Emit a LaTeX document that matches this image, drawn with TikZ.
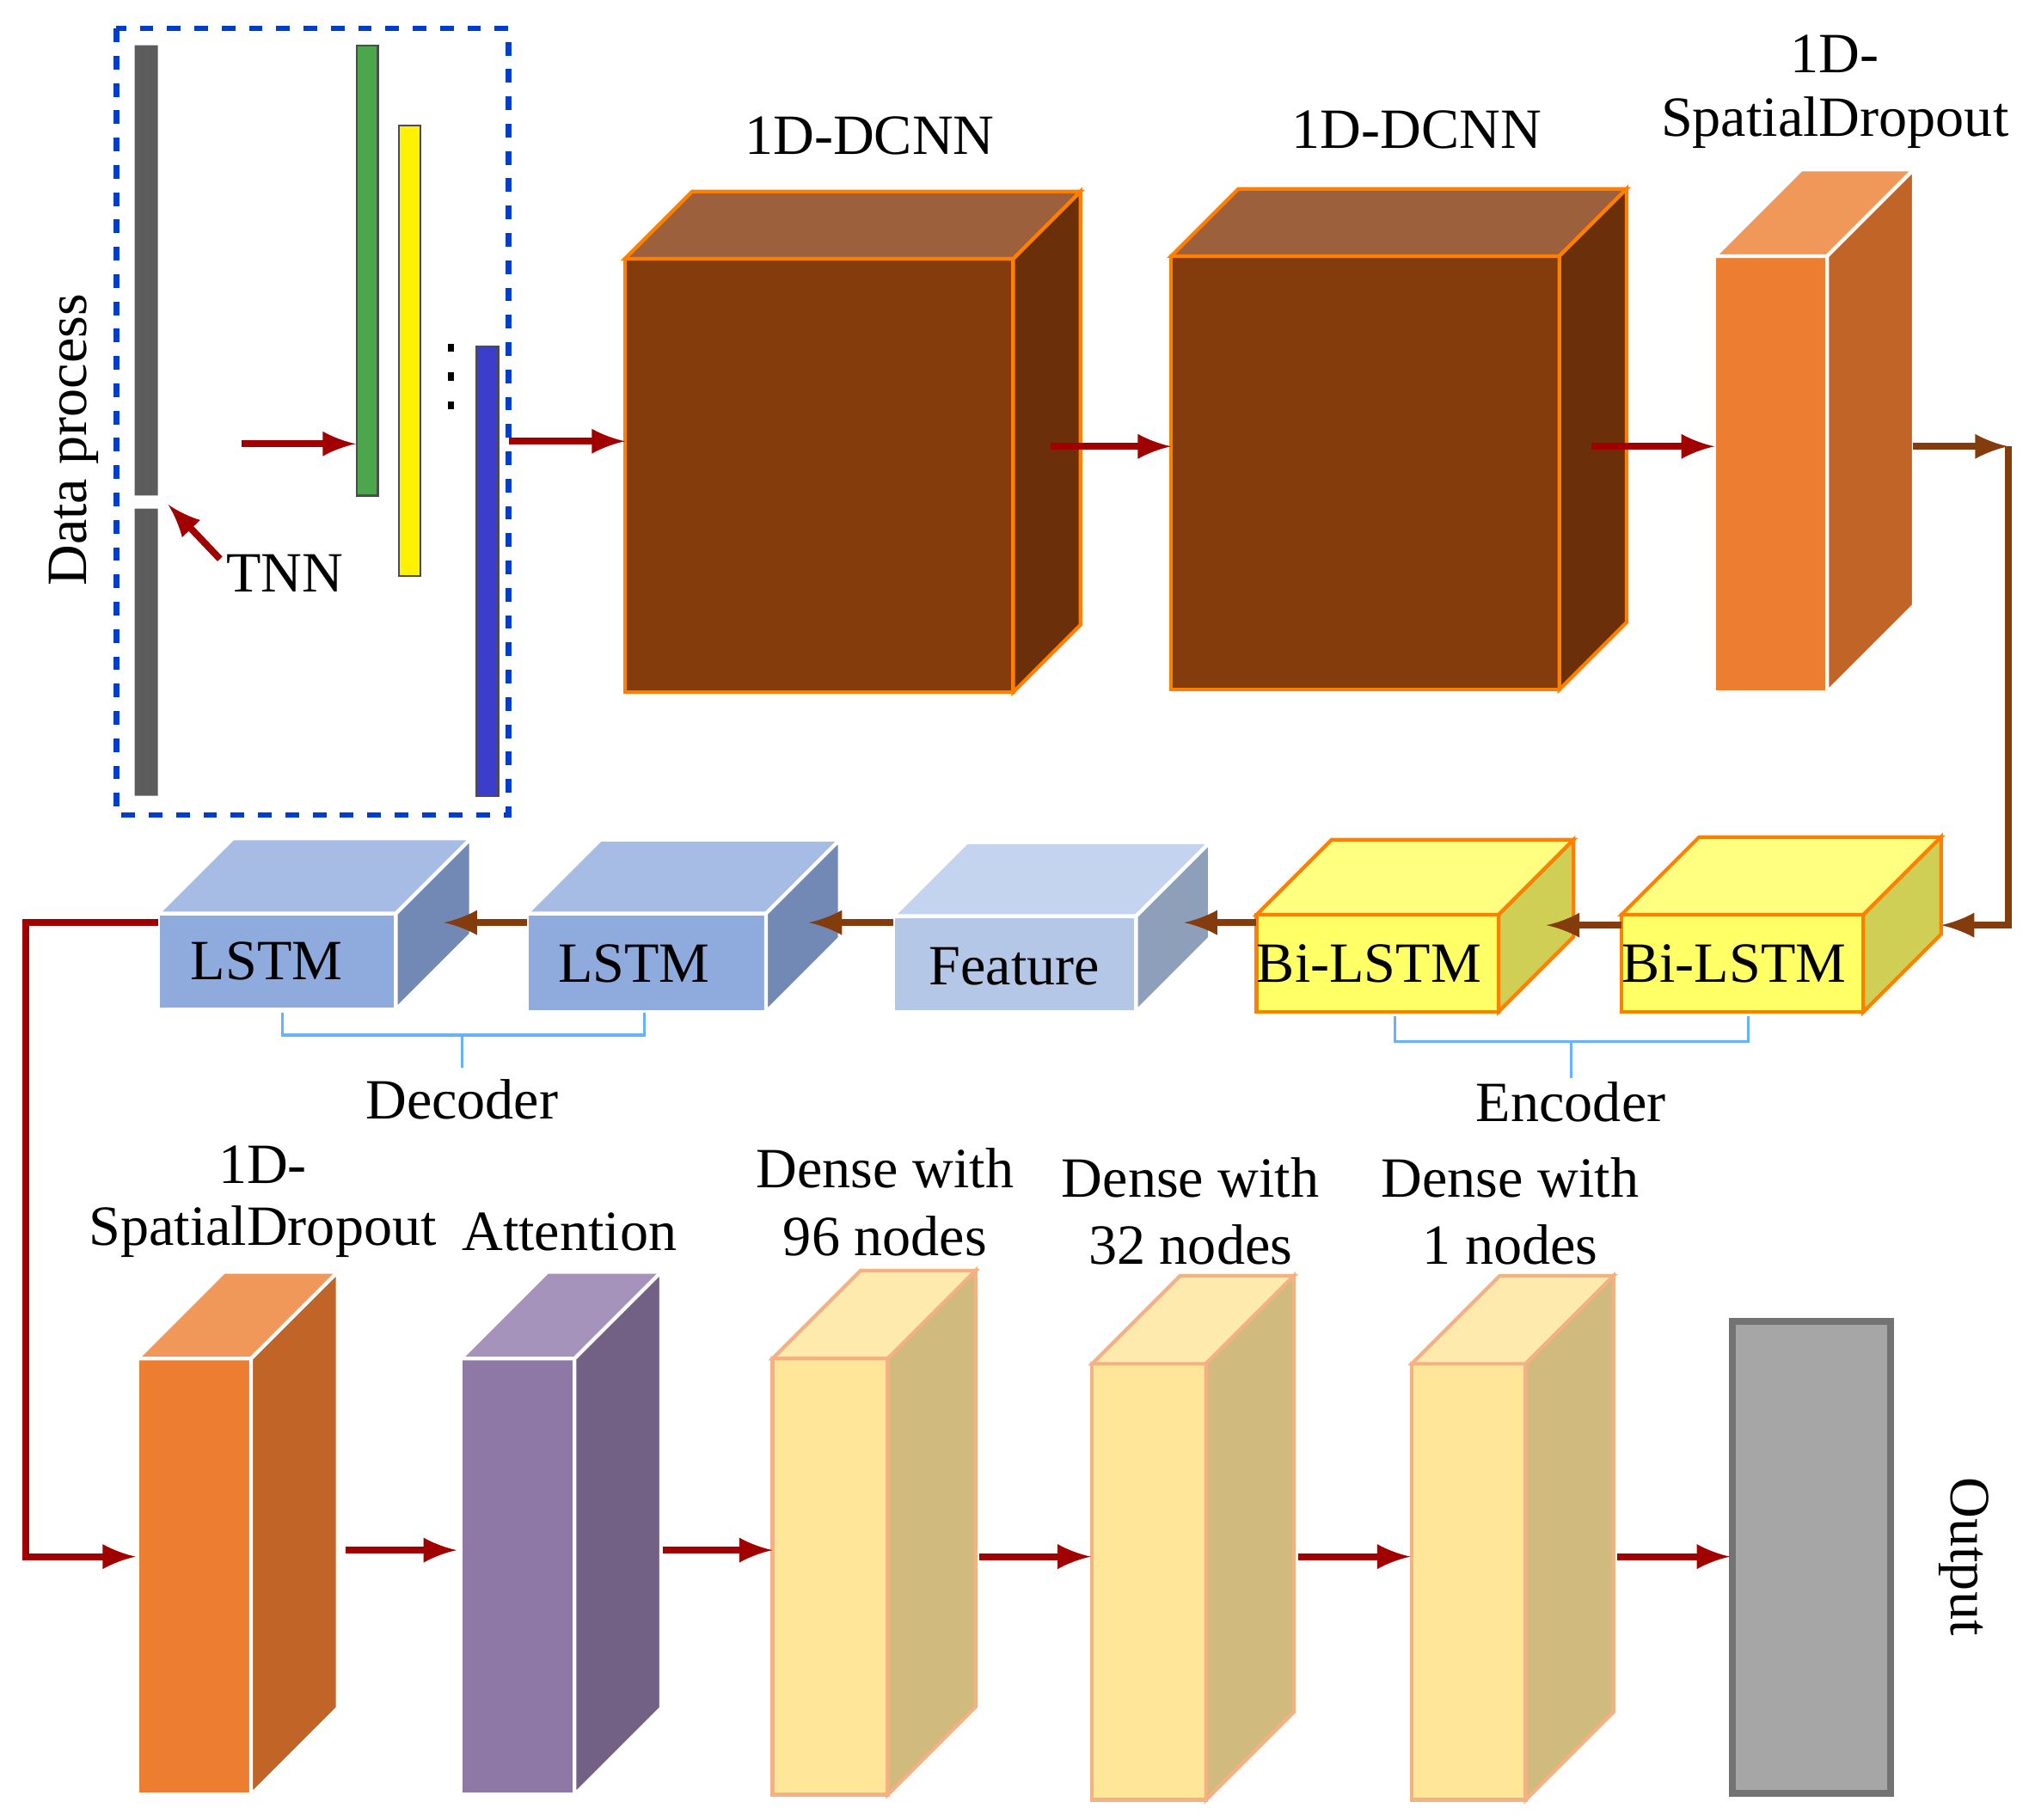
\documentclass[tikz,border=0pt]{standalone}
\usepackage{fontspec}
\setmainfont{Liberation Serif}
\definecolor{dcF}{HTML}{843C0C}\definecolor{dcT}{HTML}{9C603C}\definecolor{dcS}{HTML}{6B300A}
\definecolor{sdF}{HTML}{ED7D31}\definecolor{sdT}{HTML}{F0975A}\definecolor{sdS}{HTML}{C06428}
\definecolor{ylF}{HTML}{FFFF66}\definecolor{ylT}{HTML}{FFFF80}\definecolor{ylS}{HTML}{CFCF55}
\definecolor{ftF}{HTML}{B4C7E7}\definecolor{ftT}{HTML}{C4D3EE}\definecolor{ftS}{HTML}{8E9FBA}
\definecolor{lsF}{HTML}{8FAADC}\definecolor{lsT}{HTML}{A6BCE5}\definecolor{lsS}{HTML}{7189B4}
\definecolor{atF}{HTML}{8E78A6}\definecolor{atT}{HTML}{A593BB}\definecolor{atS}{HTML}{736185}
\definecolor{dnF}{HTML}{FFE699}\definecolor{dnT}{HTML}{FFEAAE}\definecolor{dnS}{HTML}{D1BA7D}\definecolor{dnL}{HTML}{F4B183}
\definecolor{arR}{HTML}{A00000}\definecolor{arB}{HTML}{843C0C}
\begin{document}
\newcommand\cub[9]{%
\filldraw[fill=#6,draw=#9,line width=0.8pt] (#1,#2) rectangle (#3,#4);
\filldraw[fill=#7,draw=#9,line width=0.8pt] (#1,#2) -- ({#1+#5},{#2-#5}) -- ({#3+#5},{#2-#5}) -- (#3,#2) -- cycle;
\filldraw[fill=#8,draw=#9,line width=0.8pt] (#3,#2) -- ({#3+#5},{#2-#5}) -- ({#3+#5},{#4-#5}) -- (#3,#4) -- cycle;}
\begin{tikzpicture}[x=0.01cm,y=-0.01cm,
  every node/.style={font=\fontsize{12.5}{15}\selectfont},
  ra/.style={draw=arR,line width=1.5pt,-latex},
  ba/.style={draw=arB,line width=1.5pt,-latex},
  br/.style={draw=blue!50!cyan!60,line width=0.6pt}]
\useasboundingbox (0,0) rectangle (1568,1406);
% data process
\draw[blue!70!cyan!80!black,dashed,line width=1.2pt] (90,22) rectangle (393,630);
\fill[gray!40!black!80] (104,35) rectangle (122,383) (104,393) rectangle (122,615);
\filldraw[fill=green!50!black!70!white,draw=gray!60!black] (276,35) rectangle (292,383);
\filldraw[fill=yellow,draw=gray!60!black] (308,97) rectangle (325,445);
\filldraw[fill=blue!70!white!80!black,draw=gray!60!black] (368,268) rectangle (385,615);
\foreach \y in {272,294,316} \fill (346,\y) rectangle +(5,-6);
\node[rotate=90] (dp) at (57,340) {Data process};
\node (tnn) at (220,443) {TNN};
\coordinate (ps) at (187,343); \coordinate (pg) at (275,343);
\draw[ra] (ps) -- (pg);
\draw[ra] (170,432) -- (130,390);
% top row
\cub{483}{200}{783}{535}{52}{dcF}{dcT}{dcS}{orange}
\node at (672,105) {1D-DCNN};
\cub{905}{198}{1205}{533}{52}{dcF}{dcT}{dcS}{orange}
\node at (1095,100) {1D-DCNN};
\cub{1325}{198}{1412}{535}{67}{sdF}{sdT}{sdS}{white}
\node at (1418,42) {1D-};
\node at (1418,95) {SpatialDropout};
\draw[ra] (393,341) -- (483,341);
\draw[ra] (812,345) -- (905,345);
\draw[ra] (1230,345) -- (1325,345);
\draw[ba] (1478,345) -- (1552,345);
\draw[ba] (1552,345) -- (1552,715) -- (1500,715);
% middle row
\cub{1253}{707}{1440}{782}{60}{ylF}{ylT}{ylS}{orange}
\node at (1340,745) {Bi-LSTM};
\cub{971}{707}{1158}{782}{58}{ylF}{ylT}{ylS}{orange}
\node at (1058,745) {Bi-LSTM};
\cub{690}{708}{878}{782}{57}{ftF}{ftT}{ftS}{white}
\node at (784,747) {Feature};
\cub{407}{706}{592}{782}{57}{lsF}{lsT}{lsS}{white}
\node at (490,745) {LSTM};
\cub{122}{706}{306}{780}{58}{lsF}{lsT}{lsS}{white}
\node at (206,743) {LSTM};
\draw[ba] (1253,715) -- (1195,715);
\draw[ba] (971,713) -- (915,713);
\draw[ba] (690,713) -- (625,713);
\draw[ba] (407,713) -- (343,713);
\draw[ra] (122,713) -- (20,713) -- (20,1203) -- (105,1203);
\draw[br] (218,783) -- (218,800) -- (498,800) -- (498,783) (357,800) -- (357,825);
\node at (357,850) {Decoder};
\draw[br] (1078,785) -- (1078,805) -- (1351,805) -- (1351,785) (1214,805) -- (1214,833);
\node at (1214,852) {Encoder};
% bottom row
\cub{106}{1050}{194}{1387}{67}{sdF}{sdT}{sdS}{white}
\node at (203,900) {1D-};
\node at (203,952) {SpatialDropout};
\cub{356}{1050}{444}{1387}{67}{atF}{atT}{atS}{white}
\node at (440,952) {Attention};
\cub{597}{1050}{686}{1387}{68}{dnF}{dnT}{dnS}{dnL}
\node at (684,903) {Dense with};
\node at (684,955) {96 nodes};
\cub{844}{1054}{932}{1391}{68}{dnF}{dnT}{dnS}{dnL}
\node at (920,910) {Dense with};
\node at (920,962) {32 nodes};
\cub{1091}{1054}{1179}{1391}{68}{dnF}{dnT}{dnS}{dnL}
\node at (1167,910) {Dense with};
\node at (1167,962) {1 nodes};
\filldraw[fill=gray!70,draw=gray!90!black,line width=1.5pt] (1339,1021) rectangle (1461,1386);
\node[rotate=-90] at (1518,1203) {Output};
\draw[ra] (267,1198) -- (353,1198);
\draw[ra] (512,1198) -- (597,1198);
\draw[ra] (757,1203) -- (843,1203);
\draw[ra] (1003,1203) -- (1090,1203);
\draw[ra] (1250,1203) -- (1337,1203);
\end{tikzpicture}
\end{document}
